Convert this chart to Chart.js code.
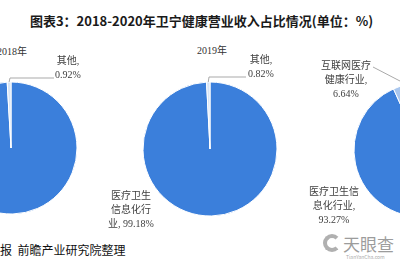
<!DOCTYPE html>
<html>
<head>
<meta charset="utf-8">
<script src="https://cdn.jsdelivr.net/npm/chart.js@4"></script>
<style>
body { margin: 0; width: 400px; height: 268px; overflow: hidden; background: #fff; position: relative;
       font-family: "Noto Sans CJK SC", sans-serif; }
canvas { position: absolute; }
.t { position: absolute; white-space: nowrap; }
.lbl { position: absolute; width: 100px; text-align: center; font-size: 10px; line-height: 14px; color: #404040;
       font-family: "Liberation Serif", "Noto Sans CJK SC", serif; }
</style>
</head>
<body>
<div class="t" id="title" style="left:0;width:403px;text-align:center;top:11px;font-size:13px;font-weight:bold;color:#1a1a1a;">图表3：2018-2020年卫宁健康营业收入占比情况(单位：%)</div>
<div class="t" style="left:-3px;top:43px;font-size:10px;color:#333;font-family:'Liberation Serif','Noto Sans CJK SC',serif;">2018年</div>
<div class="t" style="left:197px;top:42px;font-size:10px;color:#333;font-family:'Liberation Serif','Noto Sans CJK SC',serif;">2019年</div>
<div class="t" style="left:0;top:241px;font-size:12px;color:#111;">报&nbsp;&nbsp;前瞻产业研究院整理</div>
<div class="t" style="left:323px;top:234px;width:10px;height:10px;border:4px solid #b0b0b0;border-right-color:transparent;border-radius:50%;"></div>
<div class="t" style="left:343px;top:231px;font-size:17px;color:#9c9c9c;">天眼查</div>
<div class="t" style="left:346px;top:253px;font-size:5px;color:#aaa;">TianYanCha.com</div>

<canvas id="pie2018"></canvas>
<canvas id="pie2019"></canvas>
<canvas id="pie2020"></canvas>

<script>
// ============================
//  DADOS
// ============================
const categories2018 = ['医疗卫生信息化行业', '其他'];
const values2018 = [99.08, 0.92];

const categories2019 = ['医疗卫生信息化行业', '其他'];
const values2019 = [99.18, 0.82];

const categories2020 = ['医疗卫生信息化行业', '互联网医疗健康行业', '其他'];
const values2020 = [93.27, 6.64, 0.09];

const mainBlue = '#3b7fdb';
const lightBlue = '#a8c6ee';
const paleBlue = '#d6e4f6';

// ============================
//  LINHAS DE CHAMADA
// ============================
const leaderPlugin = {
    id: 'leader',
    afterDatasetsDraw(chart, args, opts) {
        const ctx = chart.ctx;
        const meta = chart.getDatasetMeta(0);
        ctx.save();
        ctx.strokeStyle = '#a9a9a9';
        ctx.lineWidth = 1;
        (opts.lines || []).forEach(l => {
            const arc = meta.data[l.index];
            const mid = (arc.startAngle + arc.endAngle) / 2;
            ctx.beginPath();
            ctx.moveTo(arc.x + Math.cos(mid) * arc.outerRadius, arc.y + Math.sin(mid) * arc.outerRadius);
            l.points.forEach(p => ctx.lineTo(p[0] - opts.offX, p[1] - opts.offY));
            ctx.stroke();
        });
        ctx.restore();
    }
};

const PAD = 60;

function makePie(id, cx, cy, r, labels, values, colors, lines) {
    const cv = document.getElementById(id);
    const size = 2 * r + 2 * PAD;
    const left = cx - r - PAD, top = cy - r - PAD;
    cv.width = size; cv.height = size;
    cv.style.left = left + 'px'; cv.style.top = top + 'px';
    cv.style.width = size + 'px'; cv.style.height = size + 'px';
    return new Chart(cv.getContext('2d'), {
        type: 'pie',
        data: {
            labels: labels,
            datasets: [{
                data: values,
                backgroundColor: colors,
                borderColor: '#ffffff',
                borderWidth: 1,
                hoverOffset: 0,
                radius: r
            }]
        },
        options: {
            responsive: false,
            animation: false,
            events: [],
            layout: { padding: PAD },
            plugins: {
                legend: { display: false },
                tooltip: { enabled: false },
                leader: { lines: lines, offX: left, offY: top }
            }
        },
        plugins: [leaderPlugin]
    });
}

makePie('pie2018', 11, 148, 66, categories2018, values2018, [mainBlue, paleBlue],
    [{ index: 1, points: [[10, 78], [54, 78]] }]);
makePie('pie2019', 210, 149, 67, categories2019, values2019, [mainBlue, paleBlue],
    [{ index: 1, points: [[209, 77], [246, 77]] }]);
makePie('pie2020', 421, 150, 67, categories2020, values2020, [mainBlue, lightBlue, paleBlue],
    [{ index: 1, points: [[373, 67]] }]);

// ============================
//  RÓTULOS
// ============================
function addLabel(cat, val, breaks, cx, top) {
    const full = cat + ', ' + val.toFixed(2) + '%';
    const lines = [];
    let pos = 0;
    breaks.concat([full.length]).forEach(b => {
        lines.push(full.slice(pos, b).trim());
        pos = b;
    });
    const d = document.createElement('div');
    d.className = 'lbl';
    d.style.left = (cx - 50) + 'px';
    d.style.top = top + 'px';
    d.innerHTML = lines.join('<br>');
    document.body.appendChild(d);
}

addLabel(categories2018[1], values2018[1], [3], 68, 54);
addLabel(categories2019[1], values2019[1], [3], 261, 53);
addLabel(categories2019[0], values2019[0], [4, 8], 131, 189);
addLabel(categories2020[1], values2020[1], [5, 10], 346, 59);
addLabel(categories2020[0], values2020[0], [5, 10], 334, 185);
</script>
</body>
</html>
